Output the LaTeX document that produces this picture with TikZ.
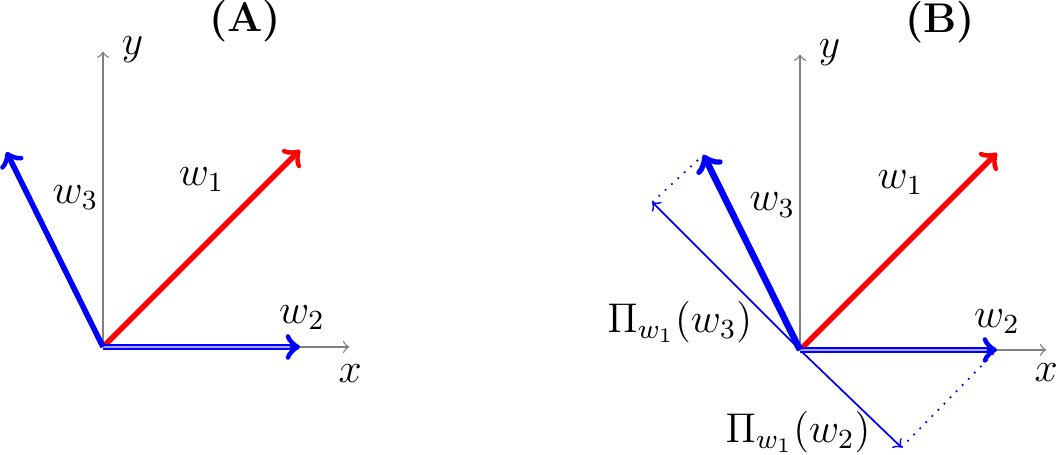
\documentclass[tikz,border=0pt]{standalone}
\usepackage{amsmath}
\begin{document}
\begin{tikzpicture}[x=1cm,y=1cm,
  axis/.style={gray,line width=0.4pt,->},
  vecr/.style={red,line width=1.6pt,->},
  vecb/.style={blue,line width=1.6pt,->},
  vech/.style={vecb,postaction={draw=blue!35!white,line width=0.4pt,-,shorten >=3pt}},
  proj/.style={blue,line width=0.5pt,->},
  dotl/.style={blue,line width=0.5pt,dotted},
  lab/.style={font=\large},
  ttl/.style={font=\large\bfseries}]
\useasboundingbox (-1.046,-1.096) rectangle (9.716,3.523);
% Panel A
\coordinate (OA) at (0,0);
\coordinate (A1) at (2,2);
\coordinate (A2) at (2,0);
\coordinate (A3) at (-0.98,1.98);
\coordinate (AX) at (2.5,0);
\coordinate (AY) at (0,3);
\draw[axis] (OA) -- (AX);
\draw[axis] (OA) -- (AY);
\draw[vecr] (OA) -- (A1);
\draw[vech] (OA) -- (A2);
\draw[vecb] (OA) -- (A3);
\node[ttl] (tA) at (1.44,3.31) {(A)};
\node[lab] (yA) at (0.30,3.02) {$y$};
\node[lab] (xA) at (2.51,-0.27) {$x$};
\node[lab] (w1A) at (1.0,1.70) {$w_1$};
\node[lab] (w2A) at (2.02,0.30) {$w_2$};
\node[lab] (w3A) at (-0.28,1.52) {$w_3$};
% Panel B
\begin{scope}[shift={(7.076,-0.03)}]
\coordinate (OB) at (0,0);
\coordinate (B1) at (2,2);
\coordinate (B2) at (2,0);
\coordinate (B3) at (-0.98,1.98);
\coordinate (P3) at (-1.5,1.5);
\coordinate (P2) at (1.03,-0.99);
\coordinate (BX) at (2.5,0);
\coordinate (BY) at (0,3);
\draw[axis] (OB) -- (BX);
\draw[axis] (OB) -- (BY);
\draw[proj] (OB) -- (P3);
\draw[proj] (OB) -- (P2);
\draw[dotl] (P3) -- (B3);
\draw[dotl] (P2) -- (B2);
\draw[vecr] (OB) -- (B1);
\draw[vech] (OB) -- (B2);
\draw[vecb,line width=1.9pt] (OB) -- (B3);
\node[ttl] (tB) at (1.42,3.33) {(B)};
\node[lab] (yB) at (0.30,3.02) {$y$};
\node[lab] (xB) at (2.5,-0.23) {$x$};
\node[lab] (w1B) at (1.02,1.70) {$w_1$};
\node[lab] (w2B) at (2.0,0.29) {$w_2$};
\node[lab] (w3B) at (-0.28,1.47) {$w_3$};
\node[lab] (p3B) at (-1.22,0.28) {$\Pi_{w_1}(w_3)$};
\node[lab] (p2B) at (-0.02,-0.83) {$\Pi_{w_1}(w_2)$};
\end{scope}
\end{tikzpicture}
\end{document}
